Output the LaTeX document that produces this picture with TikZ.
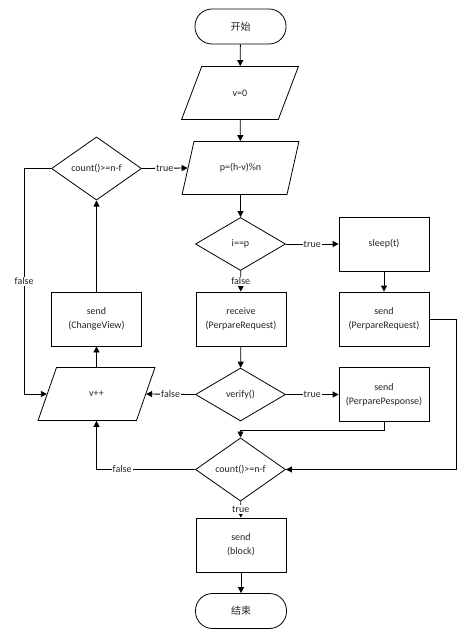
\documentclass[tikz,border=0pt]{standalone}
\usepackage{fontspec}
\setmainfont{Carlito}
\newfontfamily\cjk{Noto Sans CJK SC}
\usetikzlibrary{shapes.geometric,arrows.meta,calc}
\begin{document}
\begin{tikzpicture}[x=1pt,y=-1pt,
  every node/.style={font=\fontsize{10}{14}\selectfont, text=black!85},
  base/.style={draw, line width=0.8pt, inner sep=1pt, align=center},
  term/.style={base, rectangle, rounded corners=17pt, minimum width=91pt, minimum height=35pt},
  proc/.style={base, rectangle, minimum width=90pt, minimum height=54pt},
  io/.style={base, trapezium, trapezium left angle=63, trapezium right angle=117, trapezium stretches=true, minimum width=117pt, minimum height=53pt},
  dec/.style={base, diamond, minimum width=90pt, minimum height=53pt},
  arr/.style={line width=0.8pt, -{Triangle[width=6pt,length=6pt]}},
  lbl/.style={fill=white, inner sep=1pt}
]
\useasboundingbox (0,0) rectangle (474,640);

\node[term] (start) at (240.5,26.5) {\cjk 开始};
\node[io] (v0) at (240,93) {v=0};
\node[io] (p) at (240.5,168) {p=(h-v)\%n};
\node[dec] (ieq) at (240.5,244) {i==p};
\node[proc] (sleep) at (384,244) {sleep(t)};
\node[proc] (sendpr) at (384,319) {send\\(PerpareRequest)};
\node[proc] (recv) at (241,319) {receive\\(PerpareRequest)};
\node[proc] (cv) at (96.5,319) {send\\(ChangeView)};
\node[dec] (c1) at (96.5,168.5) {count()>=n-f};
\node[dec] (verify) at (240.5,394.5) {verify()};
\node[proc] (sendrs) at (384,394.5) {send\\(PerparePesponse)};
\node[io] (vpp) at (96.5,394) {v++};
\node[dec] (c2) at (240.5,469.5) {count()>=n-f};
\node[proc] (block) at (241,545) {send\\(block)};
\node[term] (end) at (241,611) {\cjk 结束};
\coordinate (rx) at (456,0);

\draw[arr] (start) -- (v0);
\draw[arr] (v0) -- (p);
\draw[arr] (p) -- (ieq);
\draw[arr] (ieq) -- node[lbl]{true} (sleep);
\draw[arr] (ieq) -- node[lbl]{false} (recv);
\draw[arr] (sleep) -- (sendpr);
\draw[arr] (recv) -- (verify);
\draw[arr] (verify) -- node[lbl]{true} (sendrs);
\draw[arr] (verify.west) -- node[lbl]{false} (vpp.right side);
\draw[arr] (vpp) -- (cv);
\draw[arr] (cv) -- (c1);
\draw[arr] (c1.east) -- node[lbl]{true} (p.left side);
\draw[arr] (c1.west) -- ++(-27,0) |- node[lbl,pos=0.25]{false} (vpp.left side);
\draw[arr] (sendpr.east) -- (sendpr.east -| rx) |- (c2.east);
\draw[arr] (sendrs.south) -- ++(0,8) -| (c2.north);
\draw[arr] (c2.west) -| node[lbl,pos=0.37]{false} (vpp.south);
\draw[arr] (c2) -- node[lbl]{true} (block);
\draw[arr] (block) -- (end);
\end{tikzpicture}
\end{document}
